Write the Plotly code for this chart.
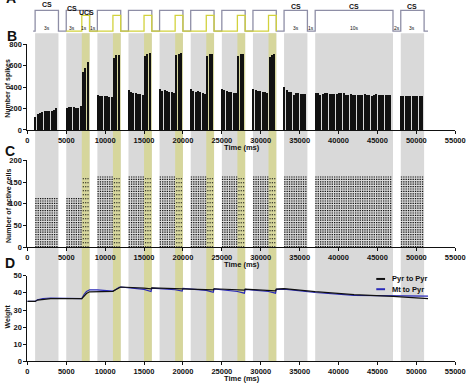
import plotly.graph_objects as go

W, H = 474, 387
X0, X1 = 26, 465          # pixel extent of the time axis

def pxx(p):
    return p / W

def pxy(p):
    return (H - p) / H

# ---------------- data ----------------
cs_blocks = [(1000, 4000), (5000, 8000), (9000, 12000), (13000, 16000), (17000, 20000),
             (21000, 24000), (25000, 28000), (29000, 32000), (33000, 36000),
             (37000, 47000), (48000, 51000)]
ucs_blocks = [(7000, 8000), (11000, 12000), (15000, 16000), (19000, 20000),
              (23000, 24000), (27000, 28000), (31000, 32000)]
bin_ms = 300
bin_offset = 100

spikes_b1 = [120, 148, 162, 170, 175, 178, 180, 180, 182, 200]
spikes_b2 = [205, 210, 212, 210, 205, 200, 222, 540, 580, 635]
spikes_b3 = [322, 315, 312, 312, 312, 310, 305, 670, 695, 700]
spikes_b4 = [375, 352, 345, 342, 338, 332, 325, 688, 705, 715]
spikes_b5 = [385, 362, 372, 365, 358, 350, 345, 695, 705, 715]
spikes_b6 = [385, 365, 358, 360, 352, 345, 338, 688, 705, 710]
spikes_b7 = [380, 372, 360, 355, 352, 348, 340, 692, 705, 712]
spikes_b8 = [378, 368, 365, 362, 358, 352, 340, 680, 700, 710]
spikes_b9 = [400, 372, 358, 350, 328, 342, 340, 338, 335, 338]
spikes_b10 = [345, 342, 322, 338, 340, 340, 338, 336, 336, 332, 340, 345, 340, 330, 328, 332, 326,
              326, 328, 330, 330, 336, 326, 322, 320, 325, 335, 330, 322, 328, 330, 326, 322]
spikes_b11 = [318, 316, 318, 318, 316, 318, 318, 318, 320, 318]
spikes = [spikes_b1, spikes_b2, spikes_b3, spikes_b4, spikes_b5, spikes_b6, spikes_b7,
          spikes_b8, spikes_b9, spikes_b10, spikes_b11]

cells_b1 = [115, 115, 115, 115, 115, 115, 115, 115, 115, 115]
cells_b2 = [115, 115, 115, 115, 115, 115, 115, 165, 165, 165]
cells_b3 = [165, 165, 165, 165, 165, 165, 165, 165, 165, 165]
cells_b4 = [165, 165, 165, 165, 165, 165, 165, 165, 165, 165]
cells_b5 = [165, 165, 165, 165, 165, 165, 165, 165, 165, 165]
cells_b6 = [165, 165, 165, 165, 165, 165, 165, 165, 165, 165]
cells_b7 = [165, 165, 165, 165, 165, 165, 165, 165, 165, 165]
cells_b8 = [165, 165, 165, 165, 165, 165, 165, 165, 165, 165]
cells_b9 = [165, 165, 165, 165, 165, 165, 165, 165, 165, 165]
cells_b10 = [165] * 33
cells_b11 = [165, 165, 165, 165, 165, 165, 165, 165, 165, 165]
cells = [cells_b1, cells_b2, cells_b3, cells_b4, cells_b5, cells_b6, cells_b7,
         cells_b8, cells_b9, cells_b10, cells_b11]

w_time = [0, 1000, 1300, 2000, 3000, 7000, 7300, 7600, 8000, 9000, 11000, 11400, 11800, 12000,
          15000, 15900, 16000, 19000, 19900, 20000, 23000, 23900, 24000, 27000, 27900, 28000,
          31000, 31900, 32000, 33000, 37000, 42000, 47000, 51500]
w_pyr = [35.0, 35.0, 35.8, 36.3, 36.6, 36.6, 38.0, 39.6, 40.6, 40.8, 40.9, 42.0, 43.0, 43.4,
         42.8, 42.3, 42.9, 42.6, 42.2, 42.6, 42.2, 41.8, 42.4, 41.8, 41.6, 42.2,
         41.4, 41.2, 42.2, 42.5, 40.7, 39.0, 37.9, 36.6]
w_mt = [35.0, 35.0, 36.0, 36.7, 37.0, 36.7, 39.2, 40.8, 41.8, 41.7, 41.0, 42.2, 43.2, 43.4,
        42.0, 40.8, 42.8, 41.8, 41.0, 42.6, 41.4, 40.3, 42.3, 40.8, 39.8, 42.0,
        40.8, 39.8, 42.0, 42.2, 40.2, 38.5, 38.1, 38.1]

x_ticks = [0, 5000, 10000, 15000, 20000, 25000, 30000, 35000, 40000, 45000, 50000, 55000]
b_ticks = [0, 200, 400, 600, 800]
c_ticks = [0, 50, 100, 150, 200]
d_ticks = [0, 10, 20, 30, 40, 50]

# panel A texts: (text, time, pixel-y, size, bold)
a_texts = [("CS", 2500, 1, 7, True), ("CS", 5750, 4.5, 7, True), ("UCS", 7600, 8.5, 7, True),
           ("CS", 34500, 3, 7, True), ("CS", 42000, 3, 7, True), ("CS", 49500, 3, 7, True),
           ("3s", 2500, 25, 5, False), ("3s", 5750, 25, 5, False), ("1s", 7250, 25, 5, False),
           ("1s", 8500, 25, 5, False), ("3s", 34500, 25, 5, False), ("1s", 36500, 25, 5, False),
           ("10s", 42000, 25, 5, False), ("2s", 47500, 25, 5, False), ("3s", 49500, 25, 5, False)]

# ---------------- styling ----------------
FONT = "Arial, Liberation Sans, sans-serif"
GRAY = "#d9d9d9"
YEL = "#d6d69c"
INK = "#111111"
BLUE = "#2a2ab8"

fig = go.Figure()

# time bins
bar_t, bar_h = [], []
for (s, e), vals in zip(cs_blocks, spikes):
    for i, v in enumerate(vals):
        bar_t.append(s + bin_offset + bin_ms * i)
        bar_h.append(v)

def in_ucs(t):
    return any(a <= t < b for a, b in ucs_blocks)

# Panel A signal traces
ga_x, ga_y = [750], [0]
for s, e in cs_blocks:
    ga_x += [s, s, e, e]
    ga_y += [0, 1, 1, 0]
ga_x.append(51500); ga_y.append(0)
ya_x, ya_y = [5000], [0]
for s, e in ucs_blocks:
    ya_x += [s, s, e, e]
    ya_y += [0, 0.76, 0.76, 0]
fig.add_trace(go.Scatter(x=ga_x, y=ga_y, mode="lines", line=dict(color="#8e8ea6", width=1.3),
                         xaxis="x", yaxis="y", showlegend=False, hoverinfo="skip"))
fig.add_trace(go.Scatter(x=ya_x, y=ya_y, mode="lines", line=dict(color="#d2d23c", width=1.3),
                         xaxis="x", yaxis="y", showlegend=False, hoverinfo="skip"))

# Panel B bars
fig.add_trace(go.Bar(x=bar_t, y=bar_h, width=160, marker=dict(color=INK, line=dict(width=0)),
                     xaxis="x2", yaxis="y2", showlegend=False))

# Panel C raster columns
cx_d, cy_d, cx_s, cy_s = [], [], [], []
for (s, e), vals in zip(cs_blocks, cells):
    for i, v in enumerate(vals):
        t = s + bin_offset + bin_ms * i
        if in_ucs(t):
            cx_s += [t, t, None]; cy_s += [0, v, None]
        else:
            cx_d += [t, t, None]; cy_d += [0, v, None]
fig.add_trace(go.Scatter(x=cx_d, y=cy_d, mode="lines", line=dict(color=INK, width=1.3, dash="1.2px,1.2px"),
                         xaxis="x3", yaxis="y3", showlegend=False, hoverinfo="skip"))
fig.add_trace(go.Scatter(x=cx_s, y=cy_s, mode="lines", line=dict(color=INK, width=1.2, dash="1px,3px"),
                         xaxis="x3", yaxis="y3", showlegend=False, hoverinfo="skip"))

# Panel D weights
fig.add_trace(go.Scatter(x=w_time, y=w_mt, mode="lines", line=dict(color=BLUE, width=1.2),
                         xaxis="x4", yaxis="y4", name="Mt to Pyr", showlegend=False))
fig.add_trace(go.Scatter(x=w_time, y=w_pyr, mode="lines", line=dict(color=INK, width=1.2),
                         xaxis="x4", yaxis="y4", name="Pyr to Pyr", showlegend=False))

shapes = []
for s, e in cs_blocks:
    shapes.append(dict(type="rect", xref="x2", yref="paper", x0=s, x1=e, y0=pxy(366), y1=pxy(30),
                       fillcolor=GRAY, line=dict(width=0), layer="below"))
for s, e in ucs_blocks:
    shapes.append(dict(type="rect", xref="x2", yref="paper", x0=s, x1=e, y0=pxy(366), y1=pxy(30),
                       fillcolor=YEL, line=dict(width=0), layer="below"))
# manual legend line marks
shapes.append(dict(type="line", xref="paper", yref="paper", x0=pxx(384), x1=pxx(393),
                   y0=pxy(281.5), y1=pxy(281.5), line=dict(color=INK, width=2)))
shapes.append(dict(type="line", xref="paper", yref="paper", x0=pxx(384), x1=pxx(393),
                   y0=pxy(292), y1=pxy(292), line=dict(color=BLUE, width=2)))

ann = []
for txt, t, py, sz, bold in a_texts:
    ann.append(dict(text=txt, x=t, y=pxy(py), xref="x", yref="paper", showarrow=False,
                    xanchor="center", yanchor="middle",
                    font=dict(family=FONT, size=sz, color=INK, weight="bold" if bold else "normal")))
for lab, px_, py_ in [("A", 9, -6), ("B", 10, 33), ("C", 8, 151), ("D", 8, 265)]:
    ann.append(dict(text=lab, x=pxx(px_), y=pxy(py_), xref="paper", yref="paper", showarrow=False,
                    xanchor="center", yanchor="middle",
                    font=dict(family=FONT, size=14, color=INK, weight="bold")))
for lab, py_ in [("Number of spikes", 86), ("Number of active cells", 207), ("Weight", 320)]:
    ann.append(dict(text=lab, x=pxx(6), y=pxy(py_), xref="paper", yref="paper", showarrow=False,
                    textangle=-90, xanchor="center", yanchor="middle",
                    font=dict(family=FONT, size=7, color=INK, weight="bold")))
for py_ in [147, 267, 383]:
    ann.append(dict(text="Time (ms)", x=pxx(246), y=pxy(py_), xref="paper", yref="paper",
                    showarrow=False, xanchor="center", yanchor="middle",
                    font=dict(family=FONT, size=7.5, color=INK, weight="bold")))
for lab, py_ in [("Pyr to Pyr", 281), ("Mt to Pyr", 292)]:
    ann.append(dict(text=lab, x=pxx(398), y=pxy(py_), xref="paper", yref="paper", showarrow=False,
                    xanchor="left", yanchor="middle",
                    font=dict(family=FONT, size=7.5, color=INK, weight="bold")))

xdom = [pxx(X0), pxx(X1)]
tickfont = dict(family=FONT, size=7.5, color=INK, weight="bold")

def xax(anchor):
    return dict(domain=xdom, range=[0, 55001], anchor=anchor, showline=True, linecolor=INK,
                linewidth=1, ticks="outside", ticklen=3, tickcolor=INK, tickwidth=1,
                tickvals=x_ticks, ticktext=[str(v) for v in x_ticks], tickfont=tickfont,
                ticklabeloverflow="allow", showgrid=False, zeroline=False, fixedrange=True)

def yax(anchor, dom, rng, tv):
    return dict(domain=dom, range=rng, anchor=anchor, showline=True, linecolor=INK, linewidth=1,
                ticks="outside", ticklen=3, tickcolor=INK, tickwidth=1, tickvals=tv,
                tickfont=tickfont, ticklabeloverflow="allow", showgrid=False, zeroline=False,
                fixedrange=True)

fig.update_layout(
    width=W, height=H, margin=dict(l=0, r=0, t=0, b=0),
    paper_bgcolor="white", plot_bgcolor="rgba(0,0,0,0)",
    bargap=0, showlegend=False,
    xaxis=dict(domain=xdom, range=[0, 55001], anchor="y", visible=False, fixedrange=True),
    yaxis=dict(domain=[pxy(30), 1], range=[-0.1, 1.31], anchor="x", visible=False, fixedrange=True),
    xaxis2=xax("y2"),
    yaxis2=yax("x2", [pxy(129), pxy(41)], [0, 801], b_ticks),
    xaxis3=xax("y3"),
    yaxis3=yax("x3", [pxy(249), pxy(160)], [0, 200.3], c_ticks),
    xaxis4=xax("y4"),
    yaxis4=yax("x4", [pxy(366), pxy(278)], [0, 50.1], d_ticks),
    shapes=shapes, annotations=ann,
)

fig.write_html("out.html", config={"displayModeBar": False},
               post_script="document.body.style.margin='0px';document.body.style.overflow='hidden';")
